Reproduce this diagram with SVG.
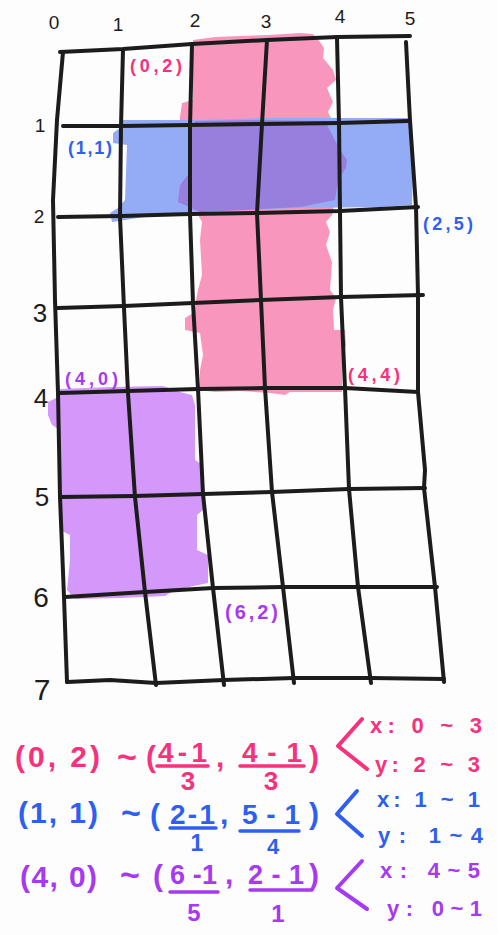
<svg xmlns="http://www.w3.org/2000/svg" width="498" height="935" viewBox="0 0 498 935">
<defs>
<style>
.g{fill:none;stroke:#1c1c1c;stroke-width:4;stroke-linecap:round;stroke-linejoin:round}
.t{font-family:"Liberation Sans",Arial,sans-serif;font-weight:bold}
.ax{font-family:"Liberation Sans",Arial,sans-serif;fill:#1c1c1c;text-anchor:middle}
.pk{fill:#f7317c}
.bl{fill:#2f5ff0}
.pu{fill:#a63af1}
.c{text-anchor:middle}
.bar{fill:none;stroke-width:3.5;stroke-linecap:round}
.br{fill:none;stroke-width:4;stroke-linecap:round;stroke-linejoin:round}
</style>
</defs>
<rect width="498" height="935" fill="#fdfdfd"/>

<g id="fills">
<polygon fill="#f996be" points="193,40 215,37 240,36 268,35 300,33 313,34 320,42 324,48 323,58 333,70 336,80 327,88 333,102 328,112 332,120 335,140 347,160 335,200 332,215 326,222 330,232 326,245 332,262 330,290 336,298 333,310 334,330 345,330 346,345 342,360 342,392 290,392 285,395 270,393 240,391 215,392 200,390 200,370 203,355 200,333 185,330 185,318 195,312 196,300 198,290 202,275 200,240 202,222 198,215 180,200 180,130 180,117 182,103 193,100"/>
<polygon fill="#94acf6" points="123,120 200,120 260,118 330,118 412,118 413,160 412,205 380,207 300,208 200,211 150,216 112,222 110,213 118,208 125,200 127,145 113,143 113,133 120,128"/>
<polygon fill="#977fdd" points="195,121 260,120 325,121 340,150 347,160 346,168 338,180 335,200 300,207 245,210 200,212 178,202 180,185 192,170 190,130"/>
<polygon fill="#d498fa" points="60,389 110,387 163,386 180,392 192,395 195,405 195,460 203,465 203,510 197,515 197,550 208,555 208,583 175,590 165,596 120,598 75,599 67,590 70,560 70,535 60,530 58,480 60,470 60,430 52,425 48,415 48,402 58,397"/>
</g>

<g id="grid">
<polyline class="g" points="60,52 123,49 192,44 267,40 337,37 410,36"/>
<polyline class="g" points="63,126 121,126 190,125 262,124 339,123 408,121"/>
<polyline class="g" points="58,217 121,216 190,214 257,213 340,211 418,207"/>
<polyline class="g" points="58,308 124,306 193,303 261,300 341,297 423,295"/>
<polyline class="g" points="60,393 128,391 198,389 265,388 345,388 418,392"/>
<polyline class="g" points="60,497 135,496 203,494 272,492 349,489 425,488"/>
<polyline class="g" points="65,597 145,592 213,588 283,587 358,587 437,587"/>
<polyline class="g" points="67,682 110,680 156,683 224,680 294,678 371,678 444,679"/>
<polyline class="g" points="63,52 57,120 53,200 55,300 58,393 60,497 64,597 67,682"/>
<polyline class="g" points="123,50 121,126 120,217 124,308 128,393 135,497 145,592 156,685"/>
<polyline class="g" points="192,44 190,126 190,214 193,303 198,389 203,494 213,588 224,685"/>
<polyline class="g" points="267,40 262,124 257,213 261,300 265,388 272,492 283,587 294,683"/>
<polyline class="g" points="337,38 339,123 340,211 341,297 345,388 349,489 358,587 371,683"/>
<polyline class="g" points="406,42 410,121 416,207 418,295 418,392 425,470 424,488 435,587 444,682"/>
</g>

<g id="axis-labels">
<text class="ax" x="54" y="29" font-size="19">0</text>
<text class="ax" x="118" y="31" font-size="19">1</text>
<text class="ax" x="195" y="27" font-size="19">2</text>
<text class="ax" x="266" y="28" font-size="19">3</text>
<text class="ax" x="340" y="23" font-size="19">4</text>
<text class="ax" x="410" y="25" font-size="19">5</text>
<text class="ax" x="40" y="132" font-size="19">1</text>
<text class="ax" x="39" y="223" font-size="19">2</text>
<text class="ax" x="40" y="322" font-size="26">3</text>
<text class="ax" x="41" y="407" font-size="26">4</text>
<text class="ax" x="42" y="506" font-size="26">5</text>
<text class="ax" x="41" y="607" font-size="28">6</text>
<text class="ax" x="42" y="700" font-size="30">7</text>
</g>

<g id="cell-labels" font-size="18">
<text class="t pk" x="130" y="72" textLength="52">(0,2)</text>
<text class="t bl" x="68" y="154" textLength="44">(1,1)</text>
<text class="t bl" x="423" y="230" textLength="50">(2,5)</text>
<text class="t pk" x="348" y="381" textLength="52">(4,4)</text>
<text class="t pu" x="65" y="385" textLength="53">(4,0)</text>
<text class="t pu" x="225" y="619" textLength="53" font-size="20">(6,2)</text>
</g>

<g id="eq1" class="pk">
<text class="t" x="15" y="767" font-size="30" textLength="85">(0, 2)</text>
<text class="t c" x="127" y="768" font-size="34">~</text>
<text class="t" x="146" y="767" font-size="30">(</text>
<text class="t" x="158" y="762" font-size="28" textLength="49">4-1</text>
<line class="bar" x1="157" y1="766" x2="208" y2="766" stroke="#f7317c"/>
<text class="t c" x="188" y="790" font-size="26">3</text>
<text class="t" x="216" y="767" font-size="30">,</text>
<text class="t" x="242" y="762" font-size="28" textLength="60">4 - 1</text>
<line class="bar" x1="240" y1="766" x2="304" y2="766" stroke="#f7317c"/>
<text class="t c" x="271" y="790" font-size="26">3</text>
<text class="t" x="309" y="767" font-size="30">)</text>
<polyline class="br" stroke="#f7317c" points="362,719 338,746 367,769"/>
<text class="t" x="370" y="733" font-size="22" textLength="112">x: 0 ~ 3</text>
<text class="t" x="375" y="772" font-size="22" textLength="105">y: 2 ~ 3</text>
</g>

<g id="eq2" class="bl">
<text class="t" x="18" y="823" font-size="30" textLength="80">(1, 1)</text>
<text class="t c" x="131" y="824" font-size="34">~</text>
<text class="t" x="150" y="825" font-size="30">(</text>
<text class="t" x="170" y="824" font-size="28" textLength="45">2-1</text>
<line class="bar" x1="170" y1="828" x2="216" y2="828" stroke="#2f5ff0"/>
<text class="t c" x="197" y="851" font-size="23">1</text>
<text class="t" x="220" y="824" font-size="30">,</text>
<text class="t" x="242" y="824" font-size="28" textLength="58">5 - 1</text>
<line class="bar" x1="240" y1="831" x2="299" y2="831" stroke="#2f5ff0"/>
<text class="t c" x="273" y="854" font-size="22">4</text>
<text class="t" x="309" y="824" font-size="30">)</text>
<polyline class="br" stroke="#2f5ff0" points="357,791 337,814 362,836"/>
<text class="t" x="377" y="807" font-size="22" textLength="103">x: 1 ~ 1</text>
<text class="t" x="378" y="843" font-size="22" textLength="105">y: 1~4</text>
</g>

<g id="eq3" class="pu">
<text class="t" x="20" y="887" font-size="30" textLength="77">(4, 0)</text>
<text class="t c" x="130" y="886" font-size="34">~</text>
<text class="t" x="153" y="886" font-size="30">(</text>
<text class="t" x="170" y="884" font-size="27" textLength="47">6 -1</text>
<line class="bar" x1="170" y1="892" x2="218" y2="892" stroke="#a63af1"/>
<text class="t c" x="194" y="921" font-size="24">5</text>
<text class="t" x="225" y="884" font-size="30">,</text>
<text class="t" x="248" y="884" font-size="27" textLength="56">2 - 1</text>
<line class="bar" x1="250" y1="890" x2="312" y2="890" stroke="#a63af1"/>
<text class="t c" x="278" y="922" font-size="24">1</text>
<text class="t" x="309" y="885" font-size="30">)</text>
<polyline class="br" stroke="#a63af1" points="362,861 337,888 367,909"/>
<text class="t" x="380" y="878" font-size="22" textLength="100">x: 4~5</text>
<text class="t" x="387" y="916" font-size="22" textLength="95">y: 0~1</text>
</g>
</svg>
